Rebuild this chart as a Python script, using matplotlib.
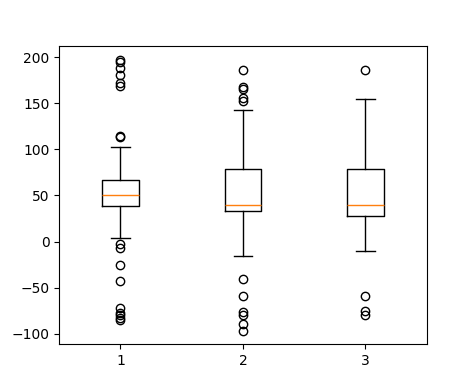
import matplotlib
matplotlib.use("Agg")
import matplotlib.pyplot as plt

labels = ["1", "2", "3"]
q1 = [39, 33, 28]
med = [50, 40, 40]
q3 = [67, 79, 79]
whislo = [4, -16, -10]
whishi = [103, 143, 155]
fliers_1 = [197, 195, 188, 181, 172, 169, 115, 113, -3, -7, -25, -43, -72, -78, -80, -83, -85]
fliers_2 = [186, 168, 166, 156, 152, -41, -59, -76, -80, -90, -97]
fliers_3 = [186, -59, -75, -80]
fliers = [fliers_1, fliers_2, fliers_3]

stats = []
for i in range(len(labels)):
    stats.append(dict(label=labels[i], q1=q1[i], med=med[i], q3=q3[i],
                      whislo=whislo[i], whishi=whishi[i], fliers=fliers[i]))

fig, ax = plt.subplots(figsize=(4.74, 3.87), dpi=100)
ax.bxp(stats)
fig.savefig("out.png", dpi=100)
